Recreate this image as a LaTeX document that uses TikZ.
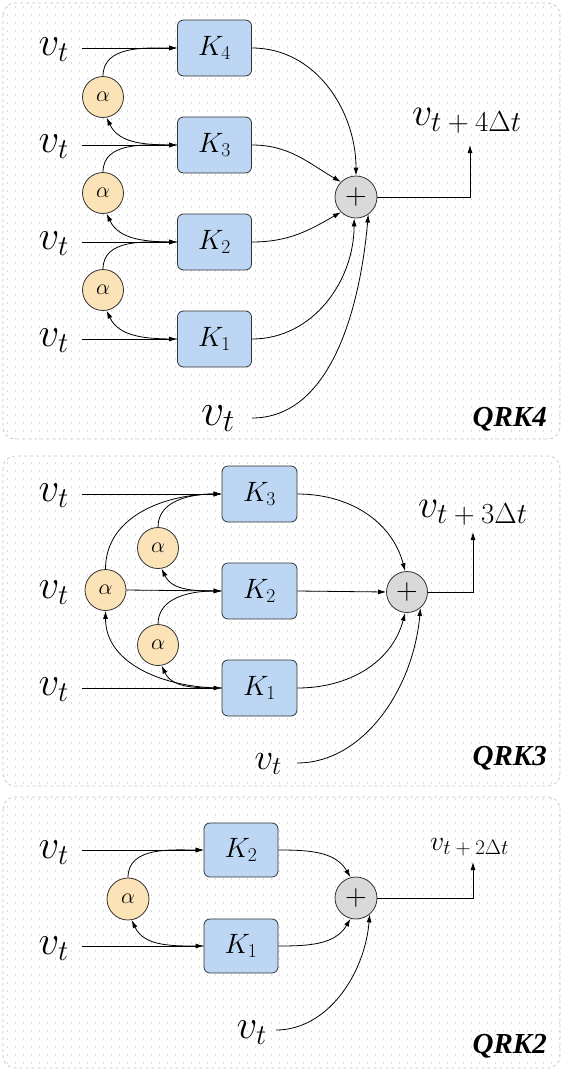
\RequirePackage{fix-cm}
\documentclass[tikz,border=0pt]{standalone}
\usepackage{fontspec}
\newfontfamily\qrkfont{Liberation Serif}
\usetikzlibrary{arrows.meta}
\definecolor{stagefill}{RGB}{189,214,243}
\definecolor{weightfill}{RGB}{252,226,183}
\definecolor{sumfill}{RGB}{217,217,217}
\newcommand{\stepsub}[2]{\mbox{\fontsize{#1}{#1}\selectfont$#2$}}
\tikzstyle{panel}=[draw=black!22,dashed,line width=0.8pt,rounded corners=12pt]
\tikzstyle{dotrow}=[black!14,line width=1.1pt,dash pattern=on 1.1pt off 6.9pt]
\tikzstyle{stage}=[rectangle,rounded corners=6pt,minimum width=74pt,minimum height=56pt,draw=black!80,line width=0.8pt,fill=stagefill,font=\fontsize{28}{32}\selectfont]
\tikzstyle{weight}=[circle,minimum size=41pt,inner sep=0pt,draw=black!80,line width=0.8pt,fill=weightfill,font=\fontsize{22}{25}\selectfont]
\tikzstyle{adder}=[circle,minimum size=42pt,inner sep=0pt,draw=black!80,line width=0.8pt,fill=sumfill,font=\fontsize{30}{32}\selectfont]
\tikzstyle{vlabel}=[inner sep=0pt,font=\fontsize{41}{45}\selectfont]
\tikzstyle{methodname}=[inner sep=0pt,font=\qrkfont\bfseries\itshape\fontsize{29}{32}\selectfont]
\tikzstyle{flow}=[-{Latex[length=8pt,width=5pt]},line width=0.8pt]

\begin{document}
\begin{tikzpicture}[x=1pt,y=-1pt]
\useasboundingbox (0,0) rectangle (564,1072);
% panels
\begin{scope}
  \clip[rounded corners=12pt] (3,3) rectangle (560,439) (3,456) rectangle (560,786) (3,797) rectangle (560,1068);
  \foreach \y in {7,15,...,1067}
    \draw[dotrow] (7,\y) -- (560,\y);
\end{scope}
\draw[panel] (3,3) rectangle (560,439);
\draw[panel] (3,456) rectangle (560,786);
\draw[panel] (3,797) rectangle (560,1068);

%%% QRK4
% stages
  \node[stage] (p4k4) at (214.5,48) {$K_4$};
  \node[stage] (p4k3) at (214.5,145) {$K_3$};
  \node[stage] (p4k2) at (214.5,242) {$K_2$};
  \node[stage] (p4k1) at (214.5,339) {$K_1$};
% inputs
  \node[vlabel,anchor=base east] (p4v4) at (69,55) {$v_t$};
  \node[vlabel,anchor=base east] (p4v3) at (69,152) {$v_t$};
  \node[vlabel,anchor=base east] (p4v2) at (69,249) {$v_t$};
  \node[vlabel,anchor=base east] (p4v1) at (69,346) {$v_t$};
  \node[vlabel,anchor=base east,font=\fontsize{46}{50}\selectfont] (p4v0) at (235,425) {$v_t$};
  \foreach \k in {1,...,4}
    \draw[flow,shorten <=13pt] (p4v\k.east |- p4k\k.west) -- (p4k\k.west);
% weights
  \node[weight] (p4a3) at (103,97) {$\alpha$};
  \node[weight] (p4a2) at (103,193) {$\alpha$};
  \node[weight] (p4a1) at (103,290) {$\alpha$};
  \foreach \k/\n in {1/2,2/3,3/4}{
    \draw[flow] (p4k\k.west) to[out=180,in=-65] (p4a\k.-80);
    \draw[flow] (p4a\k.north) to[out=90,in=180] (p4k\n.west);
  }
% sum
  \node[adder] (p4sum) at (356,197) {$+$};
  \draw[flow] (p4k4.east) to[out=0,in=90] (p4sum.north);
  \draw[flow] (p4k3.east) to[out=0,in=150] (p4sum.135);
  \draw[flow] (p4k2.east) to[out=0,in=-150] (p4sum.-135);
  \draw[flow] (p4k1.east) to[out=0,in=-90] (p4sum.-95);
  \draw[flow,shorten <=17pt] ([yshift=7pt]p4v0.base east) to[out=0,in=-95] (p4sum.-55);
% output
  \coordinate (p4out) at (470,145);
  \draw[flow] (p4sum.east) -| (p4out);
  \node[vlabel,anchor=base west,font=\fontsize{40}{44}\selectfont] (p4res) at (412,125) {$v_{\stepsub{29}{t+4\Delta t}}$};
  \node[methodname,anchor=base east] (p4name) at (547,426) {QRK4};

%%% QRK3
% stages
  \node[stage,minimum width=75pt] (p3k3) at (259.5,494) {$K_3$};
  \node[stage,minimum width=75pt] (p3k2) at (259.5,591) {$K_2$};
  \node[stage,minimum width=75pt] (p3k1) at (259.5,688) {$K_1$};
% inputs
  \node[vlabel,anchor=base east] (p3v3) at (69,501) {$v_t$};
  \node[vlabel,anchor=base east] (p3v2) at (69,598) {$v_t$};
  \node[vlabel,anchor=base east] (p3v1) at (69,695) {$v_t$};
  \node[vlabel,anchor=base east,font=\fontsize{37}{41}\selectfont] (p3v0) at (282,769) {$v_t$};
  \draw[flow,shorten <=13pt] (p3v3.east |- p3k3.west) -- (p3k3.west);
  \draw[flow,shorten <=13pt] (p3v1.east |- p3k1.west) -- (p3k1.west);
% weights
  \node[weight] (p3a0) at (105.5,590) {$\alpha$};
  \node[weight] (p3a2) at (158,548) {$\alpha$};
  \node[weight] (p3a1) at (158,645) {$\alpha$};
  \draw[flow] (p3a0.east) -- (p3k2.west);
  \draw[flow] (p3a0.north) to[out=90,in=180] (p3k3.west);
  \draw[flow] (p3k1.west) to[out=180,in=-90] (p3a0.south);
  \draw[flow] (p3a2.north) to[out=90,in=180] (p3k3.west);
  \draw[flow] (p3k2.west) to[out=180,in=-65] (p3a2.-80);
  \draw[flow] (p3a1.north) to[out=90,in=180] (p3k2.west);
  \draw[flow] (p3k1.west) to[out=180,in=-65] (p3a1.-80);
% sum
  \node[adder,minimum size=41pt] (p3sum) at (407,592) {$+$};
  \draw[flow] (p3k3.east) to[out=0,in=105] (p3sum.95);
  \draw[flow] (p3k2.east) -- (p3sum.west);
  \draw[flow] (p3k1.east) to[out=0,in=-105] (p3sum.-95);
  \draw[flow,shorten <=15pt] ([yshift=6pt]p3v0.base east) to[out=0,in=-95] (p3sum.-50);
% output
  \coordinate (p3out) at (473,532);
  \draw[flow] (p3sum.east) -| (p3out);
  \node[vlabel,anchor=base west,font=\fontsize{40}{44}\selectfont] (p3res) at (418,517) {$v_{\stepsub{29}{t+3\Delta t}}$};
  \node[methodname,anchor=base east] (p3name) at (547,765) {QRK3};

%%% QRK2
% stages
  \node[stage,minimum height=54pt] (p2k2) at (241,850) {$K_2$};
  \node[stage,minimum height=54pt] (p2k1) at (241,946) {$K_1$};
% inputs
  \node[vlabel,anchor=base east] (p2v2) at (69,858) {$v_t$};
  \node[vlabel,anchor=base east] (p2v1) at (69,954) {$v_t$};
  \node[vlabel,anchor=base east] (p2v0) at (267,1038) {$v_t$};
  \draw[flow,shorten <=13pt] (p2v2.east |- p2k2.west) -- (p2k2.west);
  \draw[flow,shorten <=13pt] (p2v1.east |- p2k1.west) -- (p2k1.west);
% weights
  \node[weight,minimum size=42pt] (p2a1) at (128,899) {$\alpha$};
  \draw[flow] (p2k1.west) to[out=180,in=-65] (p2a1.-80);
  \draw[flow] (p2a1.north) to[out=90,in=180] (p2k2.west);
% sum
  \node[adder] (p2sum) at (356,898) {$+$};
  \draw[flow] (p2k2.east) to[out=0,in=120] (p2sum.105);
  \draw[flow] (p2k1.east) to[out=0,in=-120] (p2sum.-105);
  \draw[flow,shorten <=9pt] ([yshift=8pt]p2v0.base east) to[out=0,in=-95] (p2sum.-50);
% output
  \coordinate (p2out) at (473,862);
  \draw[flow] (p2sum.east) -| (p2out);
  \node[vlabel,anchor=base west,font=\fontsize{28}{31}\selectfont] (p2res) at (430,850) {$v_{\stepsub{21}{t+2\Delta t}}$};
  \node[methodname,anchor=base east] (p2name) at (547,1053) {QRK2};
\end{tikzpicture}
\end{document}
